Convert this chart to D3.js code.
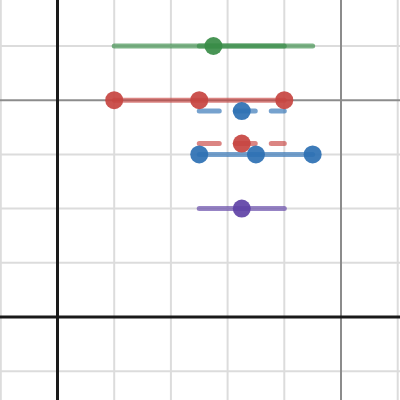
<!DOCTYPE html>
<html><head><meta charset="utf-8">
<script src="https://cdn.jsdelivr.net/npm/d3@7"></script>
<style>body{margin:0;background:#fff}svg{display:block}</style>
</head><body>
<svg id="c" width="400" height="400"></svg>
<script>
// grid ticks (data units)
const xTicks = [-1, 0, 1, 2, 3, 4, 5, 6];
const yTicks = [-2, -1, 0, 1, 2, 3, 4, 5, 6];
const xMajor = [5];
const yMajor = [4];

// segments: series colour, y, start, end, dashed
const segSeries = ["green", "green", "red", "blue", "red", "blue", "purple"];
const segY      = [5,       5,       4,     3.8,    3.2,   3,      2];
const segStart  = [1,       2.5,     1,     2.5,    2.5,   2.5,    2.5];
const segEnd    = [4.5,     4,       4,     4,      4,     4.5,    4];
const segDashed = [false,   false,   false, true,   true,  false,  false];

// points
const ptSeries = ["green", "red", "red", "red", "blue", "red", "blue", "blue", "blue", "purple"];
const ptX      = [2.75,    1,     2.5,   4,     3.25,   3.25,  2.5,    3.5,    4.5,    3.25];
const ptY      = [5,       4,     4,     4,     3.8,    3.2,   3,      3,      3,      2];

const colors = {green: "#388c46", red: "#c74440", blue: "#2d70b3", purple: "#6042a6"};

const svg = d3.select("#c");
const x = d3.scaleLinear().domain([0, 6]).range([57.5, 397.7]);
const y = d3.scaleLinear().domain([0, 5]).range([317, 46]);

// minor grid
svg.append("g").selectAll("line").data(xTicks.filter(t => t !== 0 && !xMajor.includes(t))).join("line")
  .attr("x1", d => x(d)).attr("x2", d => x(d)).attr("y1", 0).attr("y2", 400)
  .attr("stroke", "#dcdcdc").attr("stroke-width", 2);
svg.append("g").selectAll("line").data(yTicks.filter(t => t !== 0 && !yMajor.includes(t))).join("line")
  .attr("y1", d => y(d)).attr("y2", d => y(d)).attr("x1", 0).attr("x2", 400)
  .attr("stroke", "#dcdcdc").attr("stroke-width", 2);
// major grid
svg.append("g").selectAll("line").data(xMajor).join("line")
  .attr("x1", d => x(d)).attr("x2", d => x(d)).attr("y1", 0).attr("y2", 400)
  .attr("stroke", "#8c8c8c").attr("stroke-width", 2);
svg.append("g").selectAll("line").data(yMajor).join("line")
  .attr("y1", d => y(d)).attr("y2", d => y(d)).attr("x1", 0).attr("x2", 400)
  .attr("stroke", "#8c8c8c").attr("stroke-width", 2);
// axes
svg.append("line").attr("x1", x(0)).attr("x2", x(0)).attr("y1", 0).attr("y2", 400)
  .attr("stroke", "#1a1a1a").attr("stroke-width", 3);
svg.append("line").attr("y1", y(0)).attr("y2", y(0)).attr("x1", 0).attr("x2", 400)
  .attr("stroke", "#1a1a1a").attr("stroke-width", 3);

// segments
const segs = segSeries.map((s, i) => ({s, y: segY[i], a: segStart[i], b: segEnd[i], dashed: segDashed[i]}));
svg.append("g").selectAll("line").data(segs).join("line")
  .attr("x1", d => x(d.a)).attr("x2", d => x(d.b))
  .attr("y1", d => y(d.y)).attr("y2", d => y(d.y))
  .attr("stroke", d => colors[d.s]).attr("stroke-opacity", 0.65)
  .attr("stroke-width", 5).attr("stroke-linecap", "round")
  .attr("stroke-dasharray", d => d.dashed ? "20,16" : null);

// points
const pts = ptSeries.map((s, i) => ({s, x: ptX[i], y: ptY[i]}));
svg.append("g").selectAll("circle").data(pts).join("circle")
  .attr("cx", d => x(d.x)).attr("cy", d => y(d.y)).attr("r", 9)
  .attr("fill", d => colors[d.s]).attr("fill-opacity", 0.92);
</script>
</body></html>
